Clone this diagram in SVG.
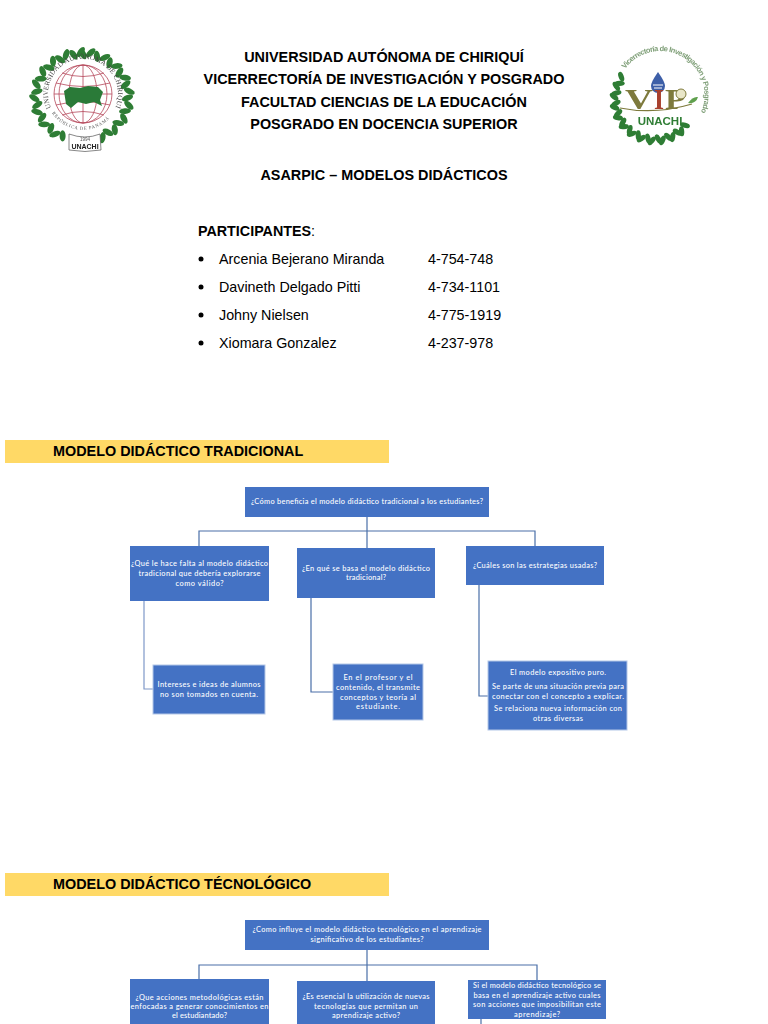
<svg xmlns="http://www.w3.org/2000/svg" xmlns:xlink="http://www.w3.org/1999/xlink" width="768" height="1024" viewBox="0 0 768 1024">
<style>
text{font-family:"Liberation Sans",Arial,sans-serif;fill:#000}
.h{font-size:14.4px;font-weight:bold;text-anchor:middle}
.p{font-size:14.3px}
.bar{fill:#FFD966}
.bt{font-size:14.4px;font-weight:bold}
.n{fill:#4472C4}
.l{fill:#4472C4;stroke:#B4C7E7;stroke-width:1}
.s{font-family:Lato,"Liberation Sans",sans-serif;font-size:7.4px;fill:#fff;text-anchor:middle;font-weight:500}
.c{fill:none;stroke:#4A6FA8;stroke-width:1.2}
.lf{fill:#2F7D34}
.g{fill:none;stroke:#B5485A;stroke-width:.8}
</style>
<defs>
<filter id="soft" x="-5%" y="-5%" width="110%" height="110%"><feGaussianBlur stdDeviation="0.35"/></filter>
<g id="pair"><ellipse class="lf" cx="-3.5" cy="-42" rx="2.8" ry="5.5" transform="rotate(-30 -3.5 -42)"/><ellipse class="lf" cx="3.5" cy="-44" rx="2.8" ry="5.5" transform="rotate(40 3.5 -44)"/></g>
<path id="arcL" d="M51 108A35 35 0 1 1 115 108"/>
<path id="arcB" d="M52 113A37 37 0 0 0 114 113"/>
<path id="arcR" d="M625 69A44 44 0 0 1 696 121"/>
</defs>

<g id="logo-left" filter="url(#soft)">
<g transform="translate(82 97) scale(1.08 1.02)">
<use xlink:href="#pair" transform="rotate(6)"/><use xlink:href="#pair" transform="rotate(24)"/><use xlink:href="#pair" transform="rotate(42)"/><use xlink:href="#pair" transform="rotate(60)"/><use xlink:href="#pair" transform="rotate(78)"/><use xlink:href="#pair" transform="rotate(96)"/><use xlink:href="#pair" transform="rotate(114)"/><use xlink:href="#pair" transform="rotate(132)"/><use xlink:href="#pair" transform="rotate(150)"/>
<use xlink:href="#pair" transform="rotate(-6)"/><use xlink:href="#pair" transform="rotate(-24)"/><use xlink:href="#pair" transform="rotate(-42)"/><use xlink:href="#pair" transform="rotate(-60)"/><use xlink:href="#pair" transform="rotate(-78)"/><use xlink:href="#pair" transform="rotate(-96)"/><use xlink:href="#pair" transform="rotate(-114)"/><use xlink:href="#pair" transform="rotate(-132)"/><use xlink:href="#pair" transform="rotate(-150)"/>
</g>
<circle class="g" cx="83" cy="94" r="29"/>
<ellipse class="g" cx="83" cy="94" rx="14" ry="29"/>
<ellipse class="g" cx="83" cy="94" rx="24" ry="29"/>
<path class="g" d="M83 65V123M56 83Q83 90 110 83M54 94H112M56 105Q83 98 110 105M62 73Q83 80 104 73M62 115Q83 108 104 115"/>
<path d="M64 91L70 87L80 88L88 86L98 87L103 92L100 100L102 106L94 102L86 104L78 102L71 108L66 104Z" fill="#2B7A37"/>
<text font-size="7" style="font-family:'Liberation Serif',serif;fill:#444"><textPath xlink:href="#arcL" textLength="138">UNIVERSIDAD AUTÓNOMA DE CHIRIQUÍ</textPath></text>
<text font-size="4.6" style="font-family:'Liberation Serif',serif;fill:#555"><textPath xlink:href="#arcB" textLength="66">REPÚBLICA DE PANAMÁ</textPath></text>
<path d="M69 134Q85 140 100 134L101 150Q85 153 69 150Z" fill="#fff" stroke="#555" stroke-width=".7"/>
<text x="85" y="141" font-size="4.5" text-anchor="middle" style="fill:#555">1994</text>
<text x="85" y="149" font-size="7" font-weight="bold" text-anchor="middle" style="fill:#222">UNACHI</text>
</g>

<g id="logo-right" filter="url(#soft)">
<g transform="translate(655 100) scale(.93)">
<use xlink:href="#pair" transform="rotate(135)"/><use xlink:href="#pair" transform="rotate(150)"/><use xlink:href="#pair" transform="rotate(165)"/><use xlink:href="#pair" transform="rotate(180)"/><use xlink:href="#pair" transform="rotate(195)"/><use xlink:href="#pair" transform="rotate(210)"/><use xlink:href="#pair" transform="rotate(225)"/><use xlink:href="#pair" transform="rotate(240)"/><use xlink:href="#pair" transform="rotate(255)"/><use xlink:href="#pair" transform="rotate(270)"/><use xlink:href="#pair" transform="rotate(285)"/><use xlink:href="#pair" transform="rotate(300)"/>
</g>
<text font-size="7.5" font-weight="bold" style="fill:#7F9F78"><textPath xlink:href="#arcR" textLength="128">Vicerrectoría de Investigación y Posgrado</textPath></text>
<path d="M658 72Q651 82 651 86A7 7 0 0 0 665 86Q665 82 658 72Z" fill="#3E5FA8"/>
<path d="M653 85H663M654 88H662" stroke="#fff" stroke-width="1"/>
<text x="625" y="109" font-size="29" font-weight="bold" textLength="28" lengthAdjust="spacingAndGlyphs" style="font-family:'Liberation Serif',serif;fill:#7E7A3C">V</text>
<text x="654" y="109" font-size="29" font-weight="bold" textLength="10" lengthAdjust="spacingAndGlyphs" style="font-family:'Liberation Serif',serif;fill:#A8402E">I</text>
<text x="665" y="109" font-size="29" font-weight="bold" textLength="21" lengthAdjust="spacingAndGlyphs" style="font-family:'Liberation Serif',serif;fill:#7E7A3C">P</text>
<circle cx="681" cy="94" r="5" fill="#E9E6C8" stroke="#7E7A3C"/>
<path d="M688 103Q693 96 698 97Q696 104 688 103Z" fill="#5FA04E"/>
<path d="M620 108Q655 115 692 104" fill="none" stroke="#7E7A3C" stroke-width="1.2"/>
<text x="660" y="125" font-size="11.5" font-weight="bold" text-anchor="middle" style="fill:#2F7D34">UNACHI</text>
</g>

<g id="heading">
<text class="h" x="384" y="62">UNIVERSIDAD AUTÓNOMA DE CHIRIQUÍ</text>
<text class="h" x="384" y="84">VICERRECTORÍA DE INVESTIGACIÓN Y POSGRADO</text>
<text class="h" x="384" y="107">FACULTAD CIENCIAS DE LA EDUCACIÓN</text>
<text class="h" x="384" y="129">POSGRADO EN DOCENCIA SUPERIOR</text>
<text class="h" x="384" y="180">ASARPIC – MODELOS DIDÁCTICOS</text>
</g>

<g id="participants">
<text class="p" x="198" y="235.500"><tspan font-weight="bold">PARTICIPANTES</tspan>:</text>
<circle cx="201" cy="259" r="2.500"/><text class="p" x="219" y="264">Arcenia Bejerano Miranda</text><text class="p" x="428" y="264">4-754-748</text>
<circle cx="201" cy="287" r="2.500"/><text class="p" x="219" y="292">Davineth Delgado Pitti</text><text class="p" x="428" y="292">4-734-1101</text>
<circle cx="201" cy="315" r="2.500"/><text class="p" x="219" y="320">Johny Nielsen</text><text class="p" x="428" y="320">4-775-1919</text>
<circle cx="201" cy="343" r="2.500"/><text class="p" x="219" y="348">Xiomara Gonzalez</text><text class="p" x="428" y="348">4-237-978</text>
</g>

<g id="banner-1"><rect class="bar" x="5" y="440" width="384" height="23"/><text class="bt" x="53" y="456">MODELO DIDÁCTICO TRADICIONAL</text></g>
<g id="banner-2"><rect class="bar" x="5" y="873" width="384" height="23"/><text class="bt" x="53" y="889">MODELO DIDÁCTICO TÉCNOLÓGICO</text></g>

<g id="connectors">
<path class="c" d="M367 517V548M199 546V531H535V546"/>
<path class="c" d="M144 601V689H153" style="stroke:#7F98C8"/>
<path class="c" d="M311 598V692H333"/>
<path class="c" d="M479 585V696H488"/>
<path class="c" d="M367 950V981M199 979V965H537V980"/>
<path class="c" d="M481 1019V1024"/>
</g>

<g id="t-root"><rect class="n" x="245" y="487" width="244" height="30"/><text class="s" x="367" y="503.500" textLength="232" lengthAdjust="spacing">¿Cómo beneficia el modelo didáctico tradicional a los estudiantes?</text></g>
<g id="t-a"><rect class="n" x="130" y="546" width="139" height="55"/>
<text class="s" x="199.500" y="565.500" textLength="137">¿Qué le hace falta al modelo didáctico</text><text class="s" x="199.500" y="575.500" textLength="122">tradicional que debería explorarse</text><text class="s" x="199.500" y="585.500" textLength="48">como válido?</text></g>
<g id="t-b"><rect class="n" x="297" y="548" width="138" height="50"/>
<text class="s" x="366" y="570.500" textLength="128">¿En qué se basa el modelo didáctico</text><text class="s" x="366" y="579.500" textLength="40">tradicional?</text></g>
<g id="t-c"><rect class="n" x="466" y="546" width="138" height="39"/>
<text class="s" x="535" y="567.500" textLength="124">¿Cuáles son las estrategias usadas?</text></g>
<g id="t-d"><rect class="l" x="153" y="665" width="112" height="49"/>
<text class="s" x="209" y="686.500" textLength="103">Intereses e ideas de alumnos</text><text class="s" x="209" y="696.500" textLength="98">no son tomados en cuenta.</text></g>
<g id="t-e"><rect class="l" x="333" y="664" width="90" height="56"/>
<text class="s" x="378" y="679.500" textLength="69">En el profesor y el</text><text class="s" x="378" y="689.500" textLength="84">contenido, el transmite</text><text class="s" x="378" y="699.500" textLength="76">conceptos y teoría al</text><text class="s" x="378" y="708.500" textLength="44">estudiante.</text></g>
<g id="t-f"><rect class="l" x="488" y="661" width="139" height="69"/>
<text class="s" x="558" y="674.500" textLength="96">El modelo expositivo puro.</text><text class="s" x="558" y="688.500" textLength="132">Se parte de una situación previa para</text><text class="s" x="558" y="698.500" textLength="132">conectar con el concepto a explicar.</text><text class="s" x="558" y="710.500" textLength="128">Se relaciona nueva información con</text><text class="s" x="558" y="720.500" textLength="50">otras diversas</text></g>

<g id="u-root"><rect class="n" x="245" y="920" width="244" height="30"/>
<text class="s" x="367" y="931.500" textLength="229">¿Como influye el modelo didáctico tecnológico en el aprendizaje</text><text class="s" x="367" y="941.500" textLength="113">significativo de los estudiantes?</text></g>
<g id="u-a"><rect class="n" x="130" y="979" width="139" height="46"/>
<text class="s" x="199.500" y="999.500" textLength="128">¿Que acciones metodológicas están</text><text class="s" x="199.500" y="1008.500" textLength="138">enfocadas a generar conocimientos en</text><text class="s" x="199.500" y="1017.500" textLength="55">el estudiantado?</text></g>
<g id="u-b"><rect class="n" x="297" y="981" width="138" height="44"/>
<text class="s" x="366" y="998.500" textLength="127">¿Es esencial la utilización de nuevas</text><text class="s" x="366" y="1008.500" textLength="104">tecnologías que permitan un</text><text class="s" x="366" y="1017.500" textLength="68">aprendizaje activo?</text></g>
<g id="u-c"><rect class="n" x="468" y="980" width="138" height="39"/>
<text class="s" x="537" y="987.500" textLength="128">Si el modelo didáctico tecnológico se</text><text class="s" x="537" y="997.500" textLength="127">basa en el aprendizaje activo cuales</text><text class="s" x="537" y="1006.500" textLength="128">son acciones que imposibilitan este</text><text class="s" x="537" y="1016.500" textLength="46">aprendizaje?</text></g>
</svg>
